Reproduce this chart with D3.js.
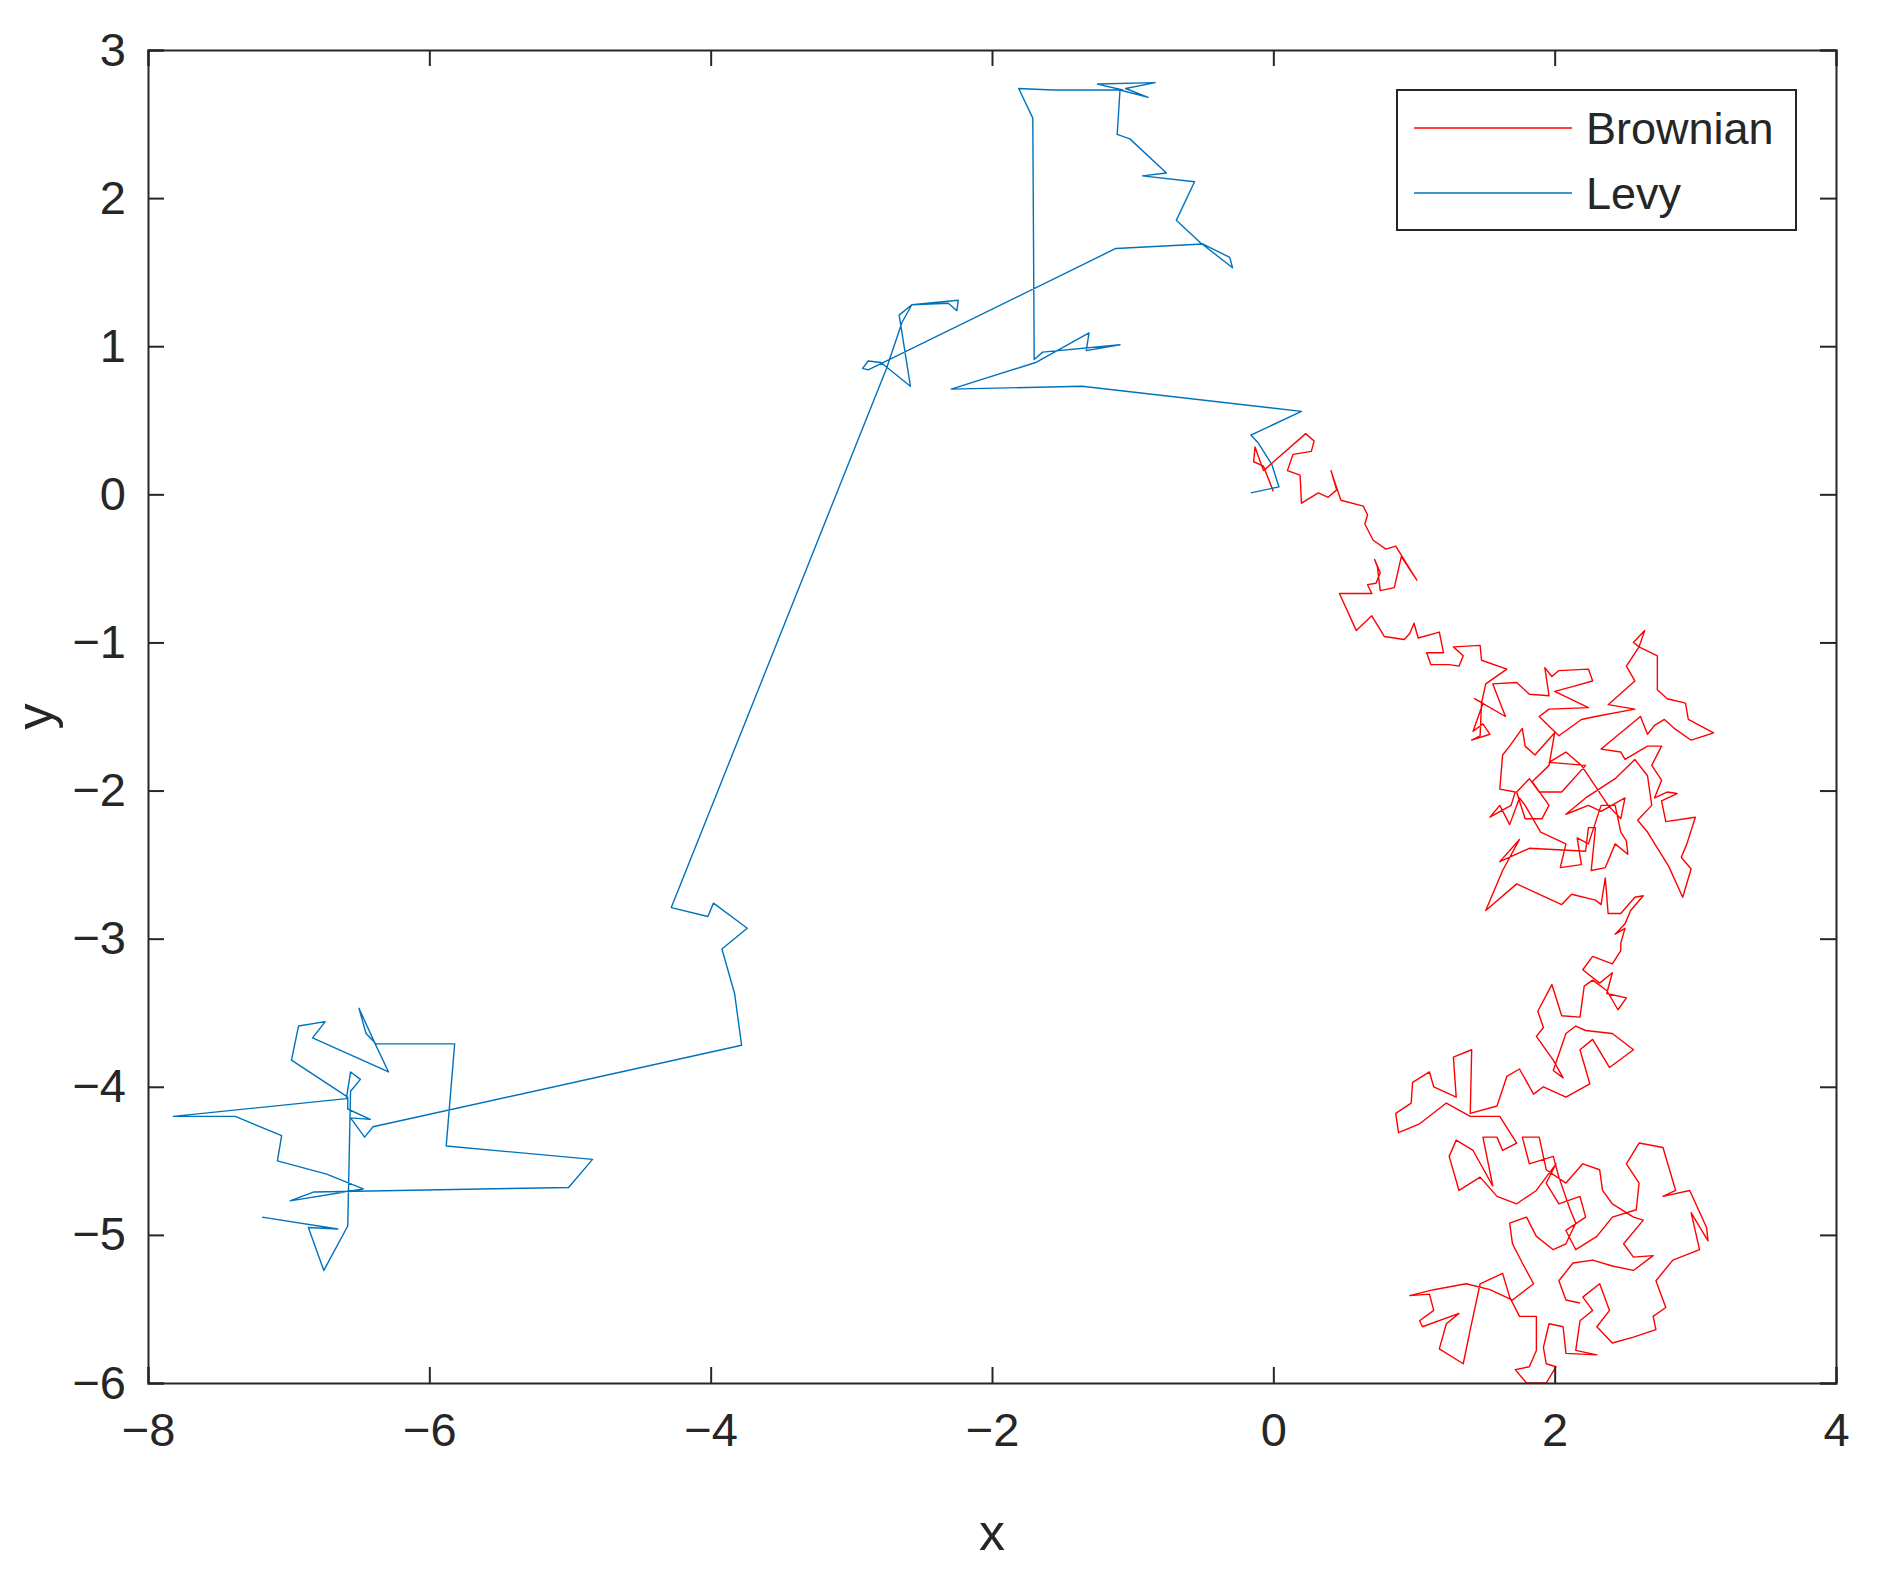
<!DOCTYPE html>
<html>
<head>
<meta charset="utf-8">
<script src="https://cdn.jsdelivr.net/npm/d3@7"></script>
<style>
  body { margin: 0; background: #fff; }
  text { font-family: "Liberation Sans", Arial, sans-serif; fill: #262626; }
</style>
</head>
<body>
<svg id="chart" width="1886" height="1579"></svg>
<script>
// tick labels
const xTicks = [-8, -6, -4, -2, 0, 2, 4];
const yTicks = [-6, -5, -4, -3, -2, -1, 0, 1, 2, 3];

// Levy flight path [x, y]
const levy = [
  [-0.16,0.01],[0.04,0.05],[-0.01,0.20],[-0.11,0.35],[-0.16,0.40],[0.20,0.56],
  [-1.36,0.73],[-2.29,0.71],[-1.69,0.89],[-1.31,1.09],[-1.33,0.97],[-1.09,1.01],
  [-1.64,0.96],[-1.70,0.91],[-1.71,2.54],[-1.80,2.72],[-1.81,2.74],[-1.57,2.73],
  [-1.07,2.73],[-1.25,2.77],[-0.84,2.78],[-1.05,2.74],[-0.89,2.68],[-1.09,2.73],
  [-1.11,2.43],[-1.02,2.40],[-0.76,2.17],[-0.93,2.15],[-0.56,2.11],[-0.69,1.85],
  [-0.52,1.70],[-0.29,1.53],[-0.31,1.60],[-0.50,1.69],[-1.12,1.66],[-2.88,0.84],
  [-2.92,0.85],[-2.88,0.90],[-2.79,0.89],[-2.58,0.73],[-2.66,1.21],[-2.57,1.28],
  [-2.24,1.31],[-2.25,1.24],[-2.31,1.29],[-2.57,1.28],[-2.64,1.16],[-2.75,0.85],
  [-4.28,-2.79],[-4.02,-2.85],[-3.98,-2.76],[-3.74,-2.93],[-3.92,-3.07],[-3.83,-3.37],
  [-3.78,-3.72],[-6.40,-4.27],[-6.46,-4.34],[-6.56,-4.21],[-6.42,-4.22],[-6.58,-4.15],
  [-6.58,-4.07],[-6.98,-3.82],[-6.93,-3.59],[-6.74,-3.56],[-6.83,-3.67],[-6.29,-3.90],
  [-6.39,-3.70],[-6.50,-3.47],[-6.45,-3.64],[-6.38,-3.71],[-5.82,-3.71],[-5.88,-4.40],
  [-4.84,-4.49],[-5.01,-4.68],[-6.82,-4.71],[-6.99,-4.77],[-6.47,-4.69],[-6.73,-4.59],
  [-7.08,-4.50],[-7.05,-4.33],[-7.38,-4.20],[-7.82,-4.20],[-6.59,-4.08],[-6.56,-3.90],
  [-6.49,-3.95],[-6.56,-4.03],[-6.58,-4.94],[-6.75,-5.24],[-6.86,-4.95],[-6.65,-4.96],
  [-7.19,-4.88]
];

// Brownian motion path [x, y]
const brownian = [
  [0.00,0.02],[-0.07,0.19],[-0.14,0.22],[-0.13,0.32],[-0.07,0.16],[0.23,0.41],
  [0.29,0.36],[0.27,0.29],[0.14,0.27],[0.10,0.16],[0.19,0.13],[0.20,-0.06],
  [0.32,0.01],[0.39,-0.02],[0.45,0.03],[0.41,0.16],[0.48,-0.04],[0.64,-0.08],
  [0.67,-0.14],[0.65,-0.20],[0.71,-0.31],[0.80,-0.37],[0.87,-0.35],[1.02,-0.58],
  [0.91,-0.42],[0.86,-0.63],[0.76,-0.65],[0.74,-0.49],[0.72,-0.44],[0.76,-0.53],
  [0.73,-0.60],[0.67,-0.61],[0.70,-0.67],[0.47,-0.67],[0.59,-0.92],[0.70,-0.82],
  [0.79,-0.96],[0.93,-0.98],[0.97,-0.94],[1.00,-0.87],[1.03,-0.97],[1.18,-0.93],
  [1.21,-1.07],[1.09,-1.07],[1.12,-1.15],[1.25,-1.15],[1.32,-1.16],[1.35,-1.09],
  [1.28,-1.03],[1.47,-1.02],[1.48,-1.12],[1.66,-1.18],[1.51,-1.28],[1.48,-1.41],
  [1.47,-1.63],[1.41,-1.66],[1.54,-1.62],[1.49,-1.55],[1.42,-1.60],[1.49,-1.41],
  [1.43,-1.38],[1.65,-1.50],[1.56,-1.28],[1.73,-1.27],[1.82,-1.35],[1.96,-1.36],
  [1.93,-1.17],[1.98,-1.23],[2.03,-1.19],[2.24,-1.18],[2.27,-1.26],[2.12,-1.30],
  [2.00,-1.33],[2.24,-1.44],[1.96,-1.45],[1.89,-1.50],[2.03,-1.63],[2.19,-1.52],
  [2.29,-1.50],[2.57,-1.45],[2.38,-1.42],[2.57,-1.26],[2.51,-1.16],[2.60,-1.03],
  [2.56,-1.00],[2.64,-0.92],[2.60,-1.03],[2.73,-1.09],[2.73,-1.32],[2.80,-1.38],
  [2.93,-1.41],[2.95,-1.52],[3.13,-1.61],[2.97,-1.66],[2.85,-1.58],[2.78,-1.52],
  [2.71,-1.56],[2.66,-1.62],[2.61,-1.50],[2.33,-1.72],[2.47,-1.74],[2.50,-1.79],
  [2.66,-1.70],[2.76,-1.70],[2.69,-1.83],[2.76,-1.93],[2.71,-2.05],[2.80,-2.01],
  [2.87,-2.02],[2.76,-2.07],[2.79,-2.21],[3.00,-2.18],[2.94,-2.36],[2.90,-2.45],
  [2.97,-2.53],[2.91,-2.72],[2.81,-2.51],[2.66,-2.28],[2.59,-2.20],[2.69,-2.10],
  [2.66,-1.90],[2.57,-1.79],[2.43,-1.92],[2.22,-2.05],[2.08,-2.16],[2.24,-2.10],
  [2.33,-2.14],[2.50,-2.05],[2.47,-2.19],[2.38,-2.10],[2.19,-1.83],[2.08,-1.74],
  [1.96,-1.81],[2.22,-1.83],[2.05,-2.01],[1.89,-2.01],[1.82,-1.92],[1.73,-2.01],
  [1.79,-2.19],[1.91,-2.19],[1.96,-2.10],[1.84,-1.94],[1.96,-1.83],[2.00,-1.61],
  [1.86,-1.76],[1.79,-1.70],[1.77,-1.58],[1.68,-1.70],[1.63,-1.76],[1.61,-1.99],
  [1.72,-2.01],[1.69,-2.10],[1.54,-2.18],[1.61,-2.10],[1.68,-2.23],[1.75,-2.05],
  [1.79,-2.10],[1.90,-2.28],[2.08,-2.36],[2.04,-2.52],[2.19,-2.50],[2.16,-2.32],
  [2.24,-2.36],[2.33,-2.10],[2.43,-2.10],[2.47,-2.28],[2.51,-2.34],[2.52,-2.43],
  [2.43,-2.36],[2.36,-2.52],[2.26,-2.54],[2.29,-2.25],[2.24,-2.25],[2.22,-2.41],
  [1.82,-2.39],[1.61,-2.48],[1.75,-2.33],[1.63,-2.54],[1.51,-2.81],[1.73,-2.63],
  [2.05,-2.77],[2.12,-2.70],[2.29,-2.74],[2.33,-2.77],[2.36,-2.59],[2.38,-2.83],
  [2.47,-2.83],[2.57,-2.72],[2.63,-2.71],[2.54,-2.81],[2.50,-2.90],[2.43,-2.97],
  [2.50,-2.93],[2.47,-3.03],[2.47,-3.08],[2.41,-3.17],[2.27,-3.12],[2.20,-3.21],
  [2.32,-3.30],[2.41,-3.23],[2.37,-3.37],[2.51,-3.40],[2.45,-3.48],[2.37,-3.35],
  [2.27,-3.28],[2.21,-3.32],[2.18,-3.53],[2.05,-3.52],[1.98,-3.31],[1.88,-3.49],
  [1.92,-3.60],[1.87,-3.66],[1.99,-3.82],[2.06,-3.94],[1.99,-3.89],[2.08,-3.64],
  [2.15,-3.59],[2.22,-3.62],[2.41,-3.64],[2.56,-3.75],[2.39,-3.87],[2.27,-3.68],
  [2.18,-3.75],[2.25,-3.98],[2.08,-4.07],[1.92,-4.00],[1.85,-4.05],[1.75,-3.88],
  [1.66,-3.93],[1.59,-4.13],[1.40,-4.18],[1.41,-3.75],[1.28,-3.80],[1.30,-4.07],
  [1.14,-4.00],[1.11,-3.90],[0.99,-3.97],[0.98,-4.11],[0.87,-4.18],[0.89,-4.31],
  [1.04,-4.25],[1.23,-4.11],[1.40,-4.20],[1.61,-4.20],[1.73,-4.38],[1.63,-4.43],
  [1.59,-4.34],[1.49,-4.34],[1.56,-4.67],[1.42,-4.43],[1.30,-4.36],[1.25,-4.47],
  [1.32,-4.70],[1.47,-4.61],[1.59,-4.74],[1.73,-4.79],[1.87,-4.70],[2.01,-4.52],
  [1.94,-4.65],[2.03,-4.79],[2.18,-4.74],[2.22,-4.88],[2.08,-4.97],[2.15,-5.10],
  [2.30,-5.01],[2.41,-4.88],[2.58,-4.83],[2.60,-4.65],[2.51,-4.52],[2.60,-4.38],
  [2.77,-4.41],[2.86,-4.70],[2.77,-4.74],[2.96,-4.70],[3.08,-4.95],[3.09,-5.04],
  [2.97,-4.85],[3.03,-5.10],[2.84,-5.17],[2.72,-5.31],[2.79,-5.49],[2.70,-5.55],
  [2.72,-5.64],[2.56,-5.69],[2.41,-5.73],[2.30,-5.62],[2.39,-5.51],[2.32,-5.33],
  [2.20,-5.42],[2.27,-5.51],[2.18,-5.58],[2.15,-5.78],[2.30,-5.81],[2.08,-5.80],
  [2.06,-5.62],[1.96,-5.60],[1.92,-5.76],[1.94,-5.87],[2.01,-5.89],[1.94,-6.00],
  [1.80,-6.00],[1.72,-5.91],[1.82,-5.89],[1.87,-5.78],[1.87,-5.55],[1.75,-5.55],
  [1.68,-5.42],[1.63,-5.26],[1.47,-5.33],[1.40,-5.64],[1.35,-5.87],[1.18,-5.77],
  [1.23,-5.60],[1.32,-5.53],[1.06,-5.62],[1.04,-5.58],[1.14,-5.51],[1.11,-5.40],
  [0.97,-5.41],[1.14,-5.37],[1.37,-5.33],[1.54,-5.37],[1.70,-5.44],[1.85,-5.33],
  [1.77,-5.19],[1.70,-5.06],[1.68,-4.92],[1.80,-4.88],[1.87,-5.01],[1.99,-5.10],
  [2.08,-5.06],[2.15,-4.92],[2.11,-4.83],[2.03,-4.61],[1.99,-4.47],[1.82,-4.52],
  [1.77,-4.34],[1.89,-4.34],[1.94,-4.56],[2.08,-4.65],[2.20,-4.52],[2.32,-4.56],
  [2.34,-4.70],[2.41,-4.79],[2.56,-4.88],[2.63,-4.90],[2.49,-5.06],[2.56,-5.15],
  [2.70,-5.14],[2.56,-5.24],[2.41,-5.21],[2.27,-5.17],[2.13,-5.19],[2.03,-5.31],
  [2.08,-5.44],[2.18,-5.46]
];

const seriesNames = ["Brownian", "Levy"];
const seriesColors = ["#ff0000", "#0072bd"];

const svg = d3.select("#chart");
const pl = 148, pr = 1836, pt = 50, pb = 1383;
const ink = "#262626";

const x = d3.scaleLinear().domain([-8, 4]).range([pl, pr]);
const y = d3.scaleLinear().domain([-6, 3]).range([pb, pt]);

// clip to plot area
svg.append("clipPath").attr("id", "clip")
  .append("rect").attr("x", pl).attr("y", pt)
  .attr("width", pr - pl).attr("height", pb - pt);

const line = d3.line().x(d => x(d[0])).y(d => y(d[1]));
const plot = svg.append("g").attr("clip-path", "url(#clip)");

plot.append("path").datum(brownian)
  .attr("d", line).attr("fill", "none")
  .attr("stroke", seriesColors[0]).attr("stroke-width", 1.4).attr("stroke-linejoin", "round");
plot.append("path").datum(levy)
  .attr("d", line).attr("fill", "none")
  .attr("stroke", seriesColors[1]).attr("stroke-width", 1.4).attr("stroke-linejoin", "round");

// axes (inner ticks on all four sides, like MATLAB)
const tickLen = 16;
svg.append("g").attr("transform", `translate(0,${pb})`)
  .call(d3.axisBottom(x).tickValues(xTicks).tickSize(-tickLen).tickPadding(30).tickFormat(d3.format("d")))
  .call(g => g.selectAll("text").attr("font-size", 47).attr("dy", "0.71em"));
svg.append("g").attr("transform", `translate(0,${pt})`)
  .call(d3.axisTop(x).tickValues(xTicks).tickSize(-tickLen).tickFormat(""));
svg.append("g").attr("transform", `translate(${pl},0)`)
  .call(d3.axisLeft(y).tickValues(yTicks).tickSize(-tickLen).tickPadding(22).tickFormat(d3.format("d")))
  .call(g => g.selectAll("text").attr("font-size", 47));
svg.append("g").attr("transform", `translate(${pr},0)`)
  .call(d3.axisRight(y).tickValues(yTicks).tickSize(-tickLen).tickFormat(""));

svg.selectAll(".domain, .tick line").attr("stroke", ink).attr("stroke-width", 2);
svg.selectAll(".tick text").attr("fill", ink).style("font-family", '"Liberation Sans", Arial, sans-serif');

// axis labels
svg.append("text").attr("x", (pl + pr) / 2).attr("y", 1550)
  .attr("text-anchor", "middle").attr("font-size", 52).text("x");
svg.append("text").attr("transform", `translate(52,${(pt + pb) / 2}) rotate(-90)`)
  .attr("text-anchor", "middle").attr("font-size", 52).text("y");

// legend
const lg = svg.append("g");
lg.append("rect").attr("x", 1397).attr("y", 90).attr("width", 399).attr("height", 140)
  .attr("fill", "#fff").attr("stroke", ink).attr("stroke-width", 2);
seriesNames.forEach((name, i) => {
  const ly = 128 + i * 65;
  lg.append("line").attr("x1", 1414).attr("x2", 1572).attr("y1", ly).attr("y2", ly)
    .attr("stroke", seriesColors[i]).attr("stroke-width", 1.6);
  lg.append("text").attr("x", 1586).attr("y", ly).attr("dy", "0.35em")
    .attr("font-size", 45).attr("fill", "#000").text(name);
});
</script>
</body>
</html>
